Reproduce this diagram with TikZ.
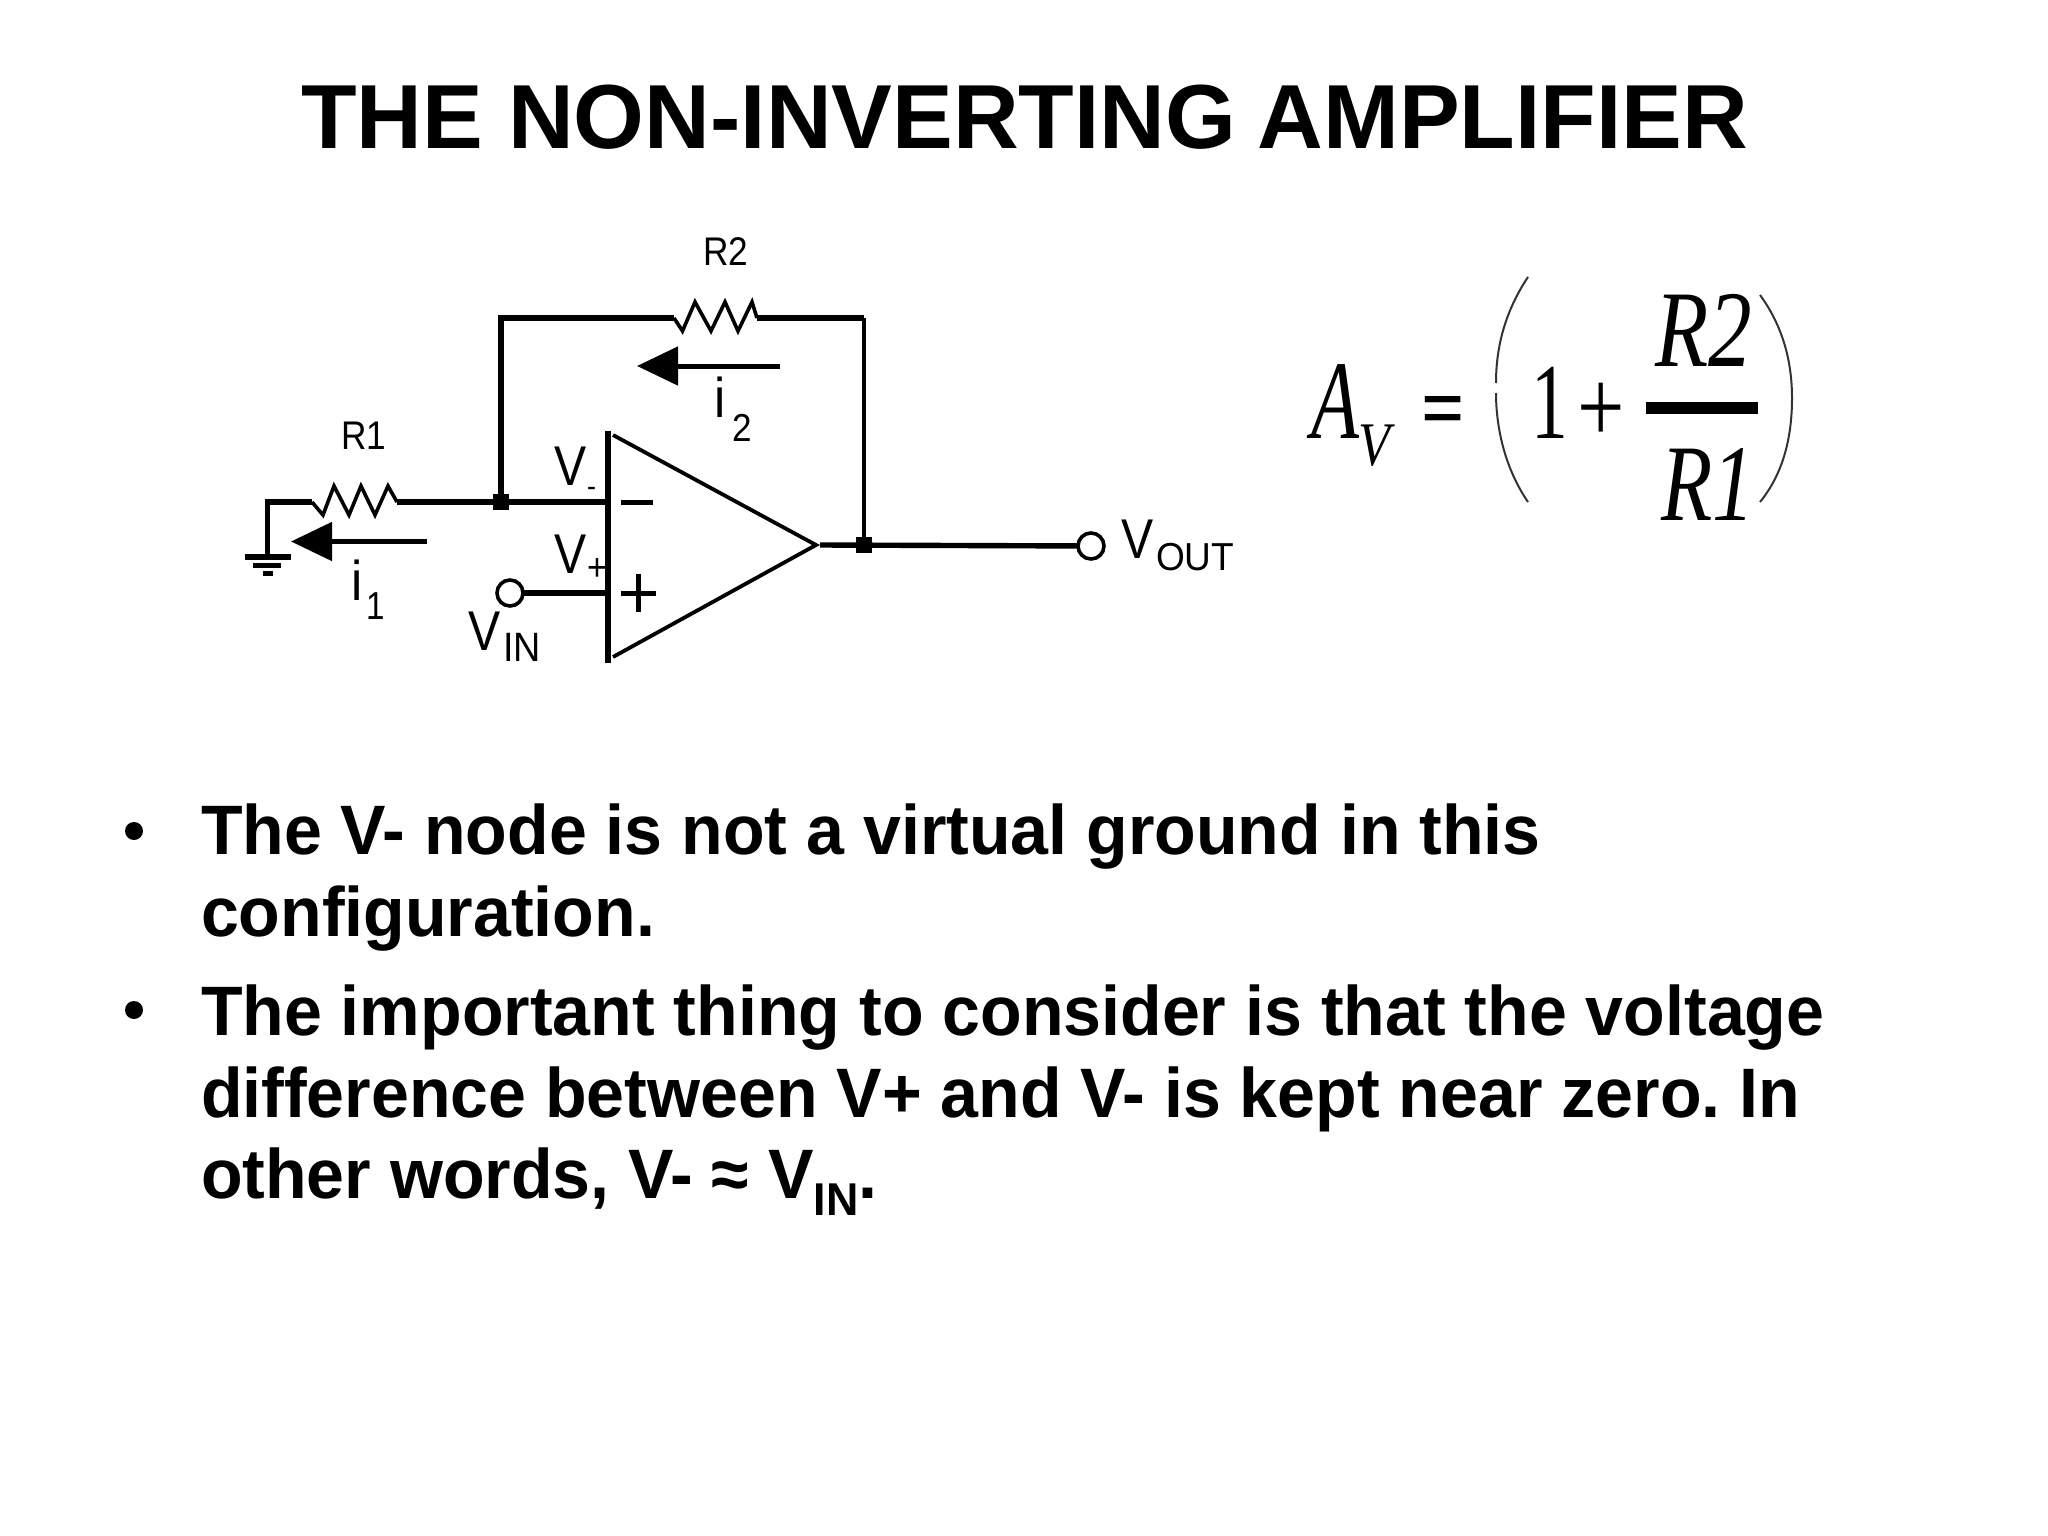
\documentclass[tikz,border=0pt]{standalone}
\usepackage{fontspec}
\usetikzlibrary{arrows.meta}
\setmainfont{Liberation Sans}
\newfontfamily\fserif{Liberation Serif}
\frenchspacing
\newcommand{\fs}[1]{\fontsize{#1}{#1}\selectfont}
\newcommand{\lbl}[3]{{\fs{#1}\scalebox{#2}[1]{#3}}}
\newcommand{\flbl}[3]{{\fserif\fs{#1}\scalebox{#2}[1]{#3}}}
\newcommand{\bline}[1]{\scalebox{.973}[1]{#1}}
\tikzset{
  txt/.style={anchor=base west,inner sep=0pt,outer sep=0pt,text=black},
  mid/.style={anchor=base,inner sep=0pt,outer sep=0pt,text=black},
  wire/.style={line width=5.4pt,line cap=butt,line join=miter},
  thinwire/.style={line width=4pt},
  zig/.style={line width=3.6pt,line join=miter},
  amp/.style={line width=3.8pt},
  junction/.style={rectangle,fill=black,minimum size=16pt,inner sep=0pt,outer sep=0pt},
  term/.style={circle,draw=black,line width=3.6pt,fill=white,minimum size=26pt,inner sep=0pt,outer sep=0pt},
  cur/.style={line width=5pt,-{Triangle[length=41pt,width=38pt]}},
  paren/.style={line width=2pt,draw=black!80},
  title/.style={txt,font=\bfseries\fs{91}},
  body/.style={txt,font=\bfseries\fs{70}},
}
\begin{document}
\begin{tikzpicture}[x=1pt,y=-1pt]
\path[fill=white] (0,0) rectangle (2048,1536);
% Title
\node[title] (ttl) at (301,149) {THE NON-INVERTING\kern-4pt{} AMPLIFIER};
% Circuit anchors
\node[junction] (jn) at (501,502) {};
\node[junction] (jo) at (864,545) {};
\node[term] (vin) at (510,593) {};
\node[term] (vout) at (1091,546) {};
\coordinate (gtop) at (267.5,502);
\coordinate (gbot) at (267.5,557);
\coordinate (r1a) at (312,502);
\coordinate (r1b) at (397,502);
\coordinate (r2a) at (674,318);
\coordinate (r2b) at (757,318);
\coordinate (ctl) at (501,318);
\coordinate (ctr) at (864,318);
\coordinate (inm) at (608,502);
\coordinate (inp) at (608,593);
\coordinate (ampt) at (608,431);
\coordinate (ampb) at (608,663);
\coordinate (tria) at (613,435);
\coordinate (trib) at (613,657);
\coordinate (apex) at (816,545);
\coordinate (oout) at (820,545);
% Wires
\draw[wire] (r1a) -- (gtop) -- (gbot);
\draw[wire] (r1b) -- (jn);
\draw[wire] (jn) -- (inm);
\draw[wire] (jn) -- (ctl) -- (r2a);
\draw[wire] (r2b) -- (ctr);
\draw[thinwire] (ctr) -- (jo);
\draw[wire] (oout) -- (vout);
\draw[wire] (vin) -- (inp);
% Resistors
\draw[zig] (r1a) -- (323,515) -- (334,486) -- (349,515) -- (361,486) -- (375,515) -- (388,486) -- (r1b);
\draw[zig] (r2a) -- (682.5,331) -- (695,302) -- (711,331) -- (725,302) -- (738,331) -- (752,302) -- (r2b);
% Ground
\draw[wire] (245,557) -- (291,557);
\draw[wire] (253,565.5) -- (281,565.5);
\draw[wire] (263,573.5) -- (273,573.5);
% Op amp
\draw[wire] (ampt) -- (ampb);
\draw[amp] (tria) -- (apex) -- (trib);
\draw[line width=5pt] (621,502) -- (653,502);
\draw[line width=5pt] (621,593) -- (656,593);
\draw[line width=5pt] (638,574) -- (638,612);
% Current arrows
\coordinate (i1s) at (427,541.5);
\coordinate (i1e) at (291,541.5);
\coordinate (i2s) at (780,366);
\coordinate (i2e) at (637,366);
\draw[cur] (i1s) -- (i1e);
\draw[cur] (i2s) -- (i2e);
% Circuit labels
\node[txt] (lr2) at (703,265) {\lbl{40}{.88}{R2}};
\node[txt] (lr1) at (341,449) {\lbl{40}{.88}{R1}};
\node[mid] (li2) at (720,417) {\lbl{56}{.9}{i}};
\node[txt] (li2s) at (732,441) {\lbl{39}{.9}{2}};
\node[mid] (li1) at (357,600) {\lbl{56}{.9}{i}};
\node[txt] (li1s) at (366,619) {\lbl{39}{.85}{1}};
\node[txt] (lvm) at (554,485) {\lbl{56}{.86}{V}};
\node[txt] (lvms) at (587,496) {\lbl{30}{.9}{-}};
\node[txt] (lvp) at (554,573) {\lbl{56}{.86}{V}};
\node[txt] (lvps) at (587,580) {\lbl{38}{.9}{+}};
\node[txt] (lvin) at (468,650) {\lbl{56}{.86}{V}};
\node[txt] (lvins) at (503,661) {\lbl{41}{.92}{IN}};
\node[txt] (lvo) at (1121,558) {\lbl{56}{.86}{V}};
\node[txt] (lvos) at (1156,570) {\lbl{39}{.95}{OUT}};
% Formula
\node[txt] (fa) at (1311,438) {\flbl{112}{.7}{\itshape A}};
\node[txt] (fv) at (1358,465) {\flbl{62}{.84}{\itshape V}};
\node[txt] (feq) at (1421,438) {\flbl{90}{.85}{\bfseries =}};
\node[txt] (f1) at (1531,438) {\flbl{108}{.68}{1}};
\node[txt] (fp) at (1577,442) {\flbl{105}{.8}{+}};
\node[txt] (fr2) at (1655,366) {\flbl{109}{.8}{\itshape R2}};
\node[txt] (fr1) at (1661,520) {\flbl{109}{.77}{\itshape R1}};
\fill (1646,402) rectangle (1758,414);
\draw[paren] (1528,277) .. controls (1506,310) and (1496,345) .. (1496,383);
\draw[paren] (1496,393) .. controls (1496,430) and (1506,470) .. (1528,502);
\draw[paren] (1760,295) .. controls (1782,325) and (1792,360) .. (1792,398) .. controls (1792,440) and (1782,475) .. (1760,502);
% Body
\fill (134,831) circle (9);
\fill (134,1010) circle (9);
\node[body] (l1) at (201,854) {\bline{The V- node is not a virtual ground in this}};
\node[body] (l2) at (201,936) {\bline{configuration.}};
\node[body] (l3) at (201,1035) {\bline{The important thing to consider is that the voltage}};
\node[body] (l4) at (201,1117) {\bline{difference between V+ and V- is kept near zero. In}};
\node[body] (l5) at (201,1198) {\bline{other words, V- ≈ V\raisebox{-17pt}{\fs{46}IN}.}};
\end{tikzpicture}
\end{document}
